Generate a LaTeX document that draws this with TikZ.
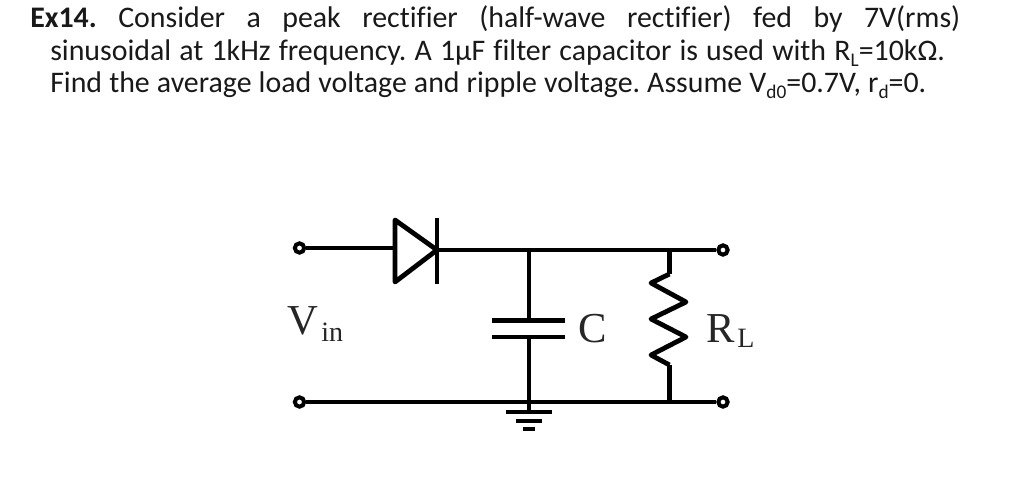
\documentclass[tikz,border=0pt]{standalone}
\usepackage{fontspec}
\setmainfont[Ligatures=NoCommon]{Carlito}
\newfontfamily\circfont{Liberation Serif}
\newcommand{\px}{0.75pt}
\newcommand{\lowered}[1]{\raisebox{-0.2em}{\fontsize{14.5pt}{15pt}\selectfont #1}}
\tikzset{
  wire/.style={line width=3.6pt},
  comp/.style={line width=3.6pt,line join=miter},
  term/.style={circle,draw=black,fill=white,line width=3pt,minimum size=7pt,inner sep=0pt},
  para/.style={anchor=base west,inner sep=0pt,font=\fontsize{22.4pt}{26pt}\selectfont,text=black!90},
  lab/.style={anchor=base west,inner sep=0pt,font=\circfont\fontsize{32pt}{34pt}\selectfont,text=black!85},
  sub/.style={anchor=base west,inner sep=0pt,font=\circfont\fontsize{21pt}{22pt}\selectfont,text=black!85}
}
\begin{document}
\frenchspacing
\begin{tikzpicture}[x=\px,y=-\px]
\useasboundingbox (0,0) rectangle (1024,484);
% text
\node[para] (l1) at (30,28) {\makebox[697.5pt][s]{\textbf{Ex14.} Consider a peak rectifier (half-wave rectifier) fed by 7V(rms)}};
\node[para] (l2) at (50,61) {\makebox[671pt][s]{sinusoidal at 1kHz frequency. A 1µF filter capacitor is used with R\lowered{L}=10kΩ.}};
\node[para] (l3) at (50,93) {\makebox[657pt][s]{Find the average load voltage and ripple voltage. Assume V\lowered{d0}=0.7V, r\lowered{d}=0.}};
% terminals
\node[term] (tl) at (299.5,248) {};
\node[term] (bl) at (299.5,402) {};
\node[term] (tr) at (723,250) {};
\node[term] (br) at (723,402) {};
% junctions
\coordinate (da) at (395,248);
\coordinate (dk) at (437,250);
\coordinate (jc) at (529,250);
\coordinate (jr) at (669.5,250);
\coordinate (pt) at (529,320.5);
\coordinate (pb) at (529,337);
\coordinate (gc) at (529,402);
\coordinate (gg) at (529,412);
\coordinate (rb) at (669.5,402);
\coordinate (rs) at (669.5,274);
\coordinate (re) at (669.5,365);
% diode
\draw[comp,line join=round] (395,220) -- (dk) -- (395,282) -- cycle;
\draw[comp] (437,218) -- (437,284);
% wires
\draw[wire] (tl) -- (da);
\draw[wire] (dk) -- (jc) -- (jr) -- (tr);
\draw[wire] (bl) -- (gc) -- (rb) -- (br);
\draw[wire] (jc) -- (pt);
\draw[wire] (pb) -- (gg);
\draw[wire] (jr) -- (rs);
\draw[wire] (re) -- (rb);
% capacitor
\draw[comp] (492,320.5) -- (565,320.5);
\draw[comp] (492,337) -- (565,337);
% resistor
\draw[comp,line join=round] (rs) -- (651,283) -- (686,302) -- (651,319) -- (686,337) -- (651,355) -- (re);
% ground
\draw[line width=3pt] (506,412) -- (552,412);
\draw[line width=3pt] (516,420.5) -- (542,420.5);
\draw[line width=3pt] (523,429) -- (535,429);
% labels
\node[lab] (v) at (287,335) {V};
\node[sub] (vin) at (321,342) {in};
\node[lab] (c) at (578,343) {C};
\node[lab] (r) at (706,343) {R};
\node[sub] (rl) at (737,348) {L};
\end{tikzpicture}
\end{document}
